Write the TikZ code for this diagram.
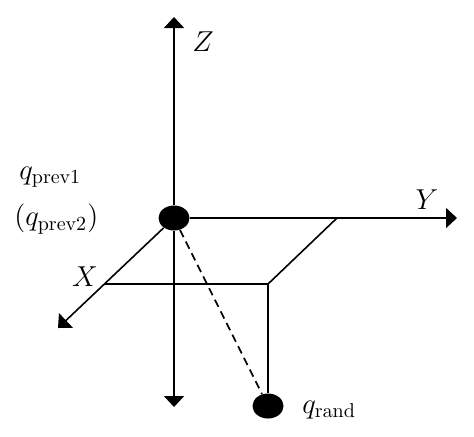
\documentclass[tikz,border=0pt]{standalone}
\usetikzlibrary{shapes.geometric, arrows.meta, positioning}
\tikzset{
	axis/.style={line width=0.8pt, -{Triangle[width=10pt,length=5.5pt]}},
	edge/.style={line width=0.8pt},
	dot/.style={ellipse, fill=black, minimum width=15.5pt, minimum height=12.5pt, inner sep=0pt},
	lbl/.style={font=\fontsize{14}{16}\selectfont, inner sep=0pt}
}
\begin{document}
\begin{tikzpicture}[x=0.5pt, y=-0.5pt]
	\useasboundingbox (0,0) rectangle (474,436);
	
	% Points
	\node[dot] (prev) at (174,218) {};
	\node[dot] (rand) at (268,406) {};
	
	% Axis ends and plane corners
	\coordinate (ztop) at (174,17);
	\coordinate (zbot) at (174,407);
	\coordinate (ytip) at (457,218);
	\coordinate (xtip) at (58,328);
	\coordinate (ycut) at (337,218);
	\coordinate (xcut) at (105,284);
	\coordinate (foot) at (268,284);
	
	% Axes
	\draw[axis] (prev) -- (ztop);
	\draw[axis] (prev) -- (zbot);
	\draw[axis] (prev) -- (ytip);
	\draw[axis] (prev) -- (xtip);
	
	% Projection
	\draw[edge] (ycut) -- (foot) -- (xcut);
	\draw[edge] (foot) -- (rand);
	\draw[edge, dash pattern=on 4pt off 2.5pt] (prev) -- (rand);
	
	% Labels
	\node[lbl] (zlab) at (203,42) {$Z$};
	\node[lbl] (ylab) at (427,200) {$Y$};
	\node[lbl] (xlab) at (85,277) {$X$};
	\node[lbl, anchor=west] (prev1) at (19,177) {$q_{\mathrm{prev1}}$};
	\node[lbl, anchor=west] (prev2) at (14,219) {$(q_{\mathrm{prev2}})$};
	\node[lbl, anchor=west] (randlab) at (302,410) {$q_{\mathrm{rand}}$};
\end{tikzpicture}
\end{document}
